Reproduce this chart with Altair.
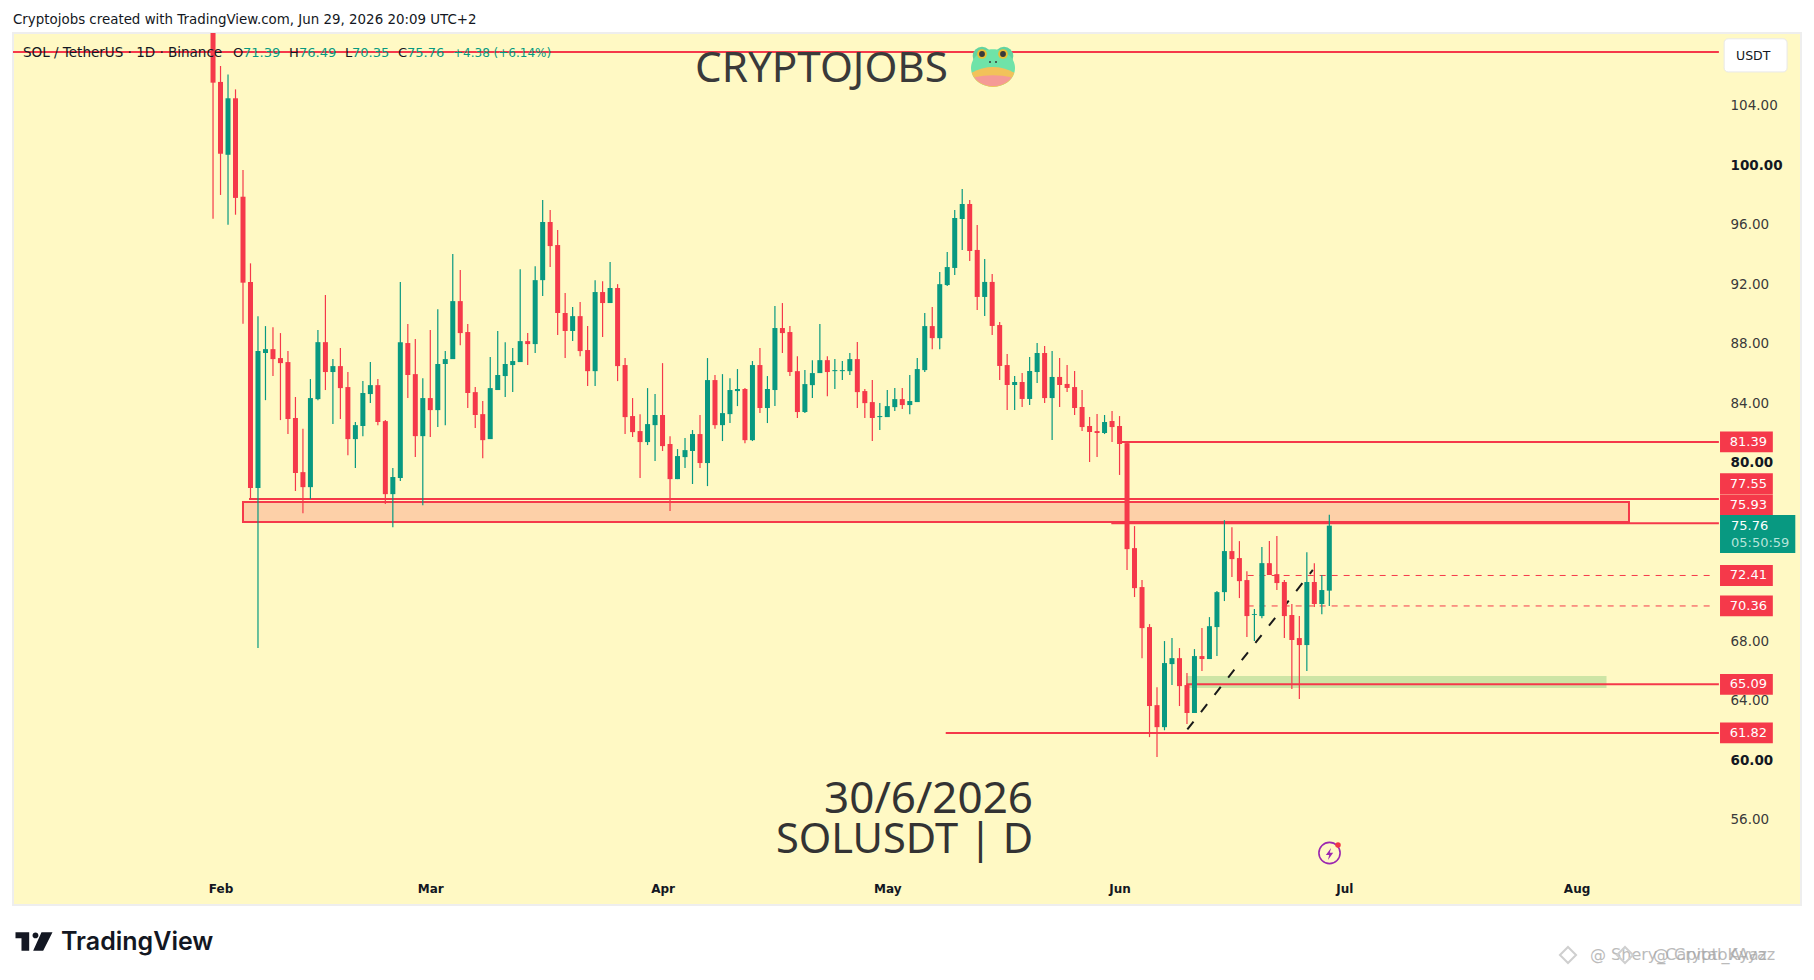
import altair as alt
import pandas as pd

FONT = "DejaVu Sans"
BIG = "Noto Sans"
RED = "#f5394a"
GREEN = "#089981"
BG = "#fff9c4"

# Daily candles from 2026-01-31
dirs = ("RRGRRRGGRR" "RRRGGRGRRG" "GGRRGGRRGR" "GGGRRRRGGG"
        "GGRGGRRRGR" "RGRGRRRRGG" "RRGGGRGRGG" "GRGRGGRRRG"
        "GGRGGGRRRG" "GGRGGGRGGG" "GRRGRRRGRG" "GRGRRRRRRG"
        "RRRRRRRGGR" "RGRGGGRRRG" "GRRRRRGRGG")
body_top = [110, 105.6, 104.5, 104.5, 97.88, 92.14, 87.5, 87.63, 87.63, 87.03,
            86.76, 83.0, 79.36, 84.34, 88.1, 88.1, 86.49, 86.49, 85.08, 82.52,
            84.68, 85.21, 85.21, 82.79, 79.03, 88.1, 88.04, 85.95, 84.34, 84.34,
            86.63, 86.96, 90.86, 90.86, 88.78, 84.74, 83.26, 85.01, 85.89, 86.63,
            86.83, 88.17, 88.17, 92.27, 96.18, 96.18, 94.63, 90.06, 89.85, 89.85,
            87.57, 91.47, 91.47, 91.74, 91.74, 86.56, 83.13, 82.12, 82.59, 83.2,
            83.2, 81.25, 80.44, 80.84, 81.92, 81.92, 85.55, 85.55, 83.33, 84.88,
            84.95, 84.95, 86.56, 86.56, 84.95, 89.05, 89.05, 88.78, 86.15, 85.28,
            86.02, 86.89, 86.89, 86.22, 86.22, 86.96, 86.96, 84.81, 84.07, 83.13,
            83.8, 84.27, 84.27, 84.14, 86.29, 89.18, 89.18, 92.0, 93.15, 96.45,
            97.39, 97.39, 94.3, 92.15, 92.15, 89.25, 86.56, 85.42, 85.42, 86.16,
            87.37, 87.37, 85.76, 85.76, 85.29, 85.08, 83.74, 82.46, 82.12, 82.73,
            82.8, 82.46, 81.31, 74.25, 71.63, 68.94, 63.69, 66.52, 66.85, 66.85,
            65.04, 66.99, 66.99, 69.0, 71.29, 74.05, 74.05, 73.58, 72.1, 69.81,
            73.24, 73.24, 72.5, 71.97, 69.75, 68.2, 71.97, 71.97, 71.43, 75.76]
body_bot = [105.55, 100.77, 100.7, 97.8, 92.1, 78.3, 78.29, 87.37, 86.96, 86.69,
            82.93, 79.3, 78.35, 78.35, 84.27, 86.09, 86.09, 85.01, 81.58, 81.58,
            82.46, 84.61, 82.73, 77.88, 77.88, 78.96, 85.89, 81.78, 81.78, 83.53,
            83.53, 86.63, 86.96, 88.71, 84.68, 83.2, 81.51, 81.58, 84.88, 85.82,
            86.56, 86.76, 87.97, 87.97, 92.27, 94.56, 90.06, 88.85, 88.85, 87.5,
            86.15, 86.15, 90.73, 90.73, 86.49, 83.06, 82.05, 81.38, 81.38, 82.52,
            81.11, 78.89, 78.89, 80.37, 80.78, 79.97, 79.97, 82.52, 82.52, 83.26,
            84.81, 81.51, 81.51, 83.67, 83.67, 84.88, 88.71, 86.09, 83.4, 83.4,
            85.21, 86.02, 86.09, 86.15, 86.15, 86.15, 84.74, 84.0, 83.0, 83.06,
            83.06, 83.73, 83.87, 83.87, 84.07, 86.22, 88.37, 88.37, 91.94, 93.09,
            96.38, 94.23, 91.14, 91.14, 89.19, 86.5, 85.22, 85.22, 84.28, 84.28,
            86.09, 84.34, 84.34, 85.22, 85.02, 83.67, 82.39, 82.06, 81.99, 81.99,
            82.39, 81.25, 74.18, 71.56, 68.87, 63.63, 62.21, 62.21, 66.45, 64.97,
            63.16, 63.16, 66.79, 66.79, 68.94, 71.29, 73.51, 72.03, 69.68, 69.75,
            69.68, 72.44, 71.9, 69.68, 68.07, 67.73, 67.73, 70.49, 70.49, 71.39]
wick_high = [110, 106.67, 106.1, 105.1, 99.67, 93.4, 89.85, 89.18, 89.1, 88.71,
             87.5, 84.41, 82.27, 85.62, 88.91, 91.27, 86.96, 87.7, 86.09, 82.73,
             85.48, 86.76, 85.62, 82.86, 79.63, 92.14, 89.32, 88.31, 85.68, 88.91,
             90.32, 87.5, 94.03, 92.95, 89.32, 85.08, 84.14, 87.1, 88.85, 88.1,
             87.7, 93.0, 88.71, 93.2, 97.66, 96.99, 95.64, 91.4, 90.46, 90.8,
             89.18, 92.27, 92.2, 93.49, 92.0, 87.03, 84.34, 83.26, 85.01, 84.61,
             86.69, 81.78, 80.91, 81.65, 82.19, 83.2, 87.03, 85.89, 85.95, 85.68,
             86.29, 85.01, 86.83, 87.7, 85.82, 90.53, 90.73, 89.18, 87.16, 86.22,
             86.89, 89.32, 87.16, 86.96, 86.83, 87.37, 88.11, 84.95, 85.55, 84.0,
             84.88, 85.01, 85.01, 85.89, 87.03, 90.06, 90.46, 92.81, 94.16, 96.99,
             98.4, 97.66, 95.98, 93.69, 92.68, 89.46, 87.3, 85.82, 86.03, 87.1,
             88.04, 87.84, 87.5, 87.03, 86.56, 86.16, 84.88, 83.07, 83.27, 83.2,
             83.47, 83.13, 81.32, 75.73, 72.1, 69.14, 64.9, 68.0, 68.2, 67.53,
             65.85, 67.46, 68.87, 69.61, 71.36, 76.13, 75.66, 74.72, 72.7, 70.15,
             74.32, 74.72, 75.06, 72.1, 70.49, 69.68, 73.98, 73.24, 72.44, 76.49]
wick_low = [96.4, 98.0, 96.0, 96.67, 89.34, 77.55, 67.53, 84.2, 85.82, 82.86,
            81.92, 78.09, 76.6, 77.55, 84.2, 84.88, 82.59, 82.93, 80.5, 79.63,
            81.78, 84.0, 82.52, 77.21, 75.66, 78.76, 84.34, 80.37, 77.14, 81.72,
            82.39, 82.52, 87.0, 87.9, 83.67, 82.32, 80.3, 81.58, 84.88, 84.41,
            84.74, 86.76, 86.56, 87.37, 91.2, 93.15, 88.58, 87.03, 88.17, 87.16,
            85.15, 85.15, 88.44, 90.73, 85.48, 81.92, 81.72, 78.96, 81.18, 80.1,
            80.78, 76.74, 78.89, 79.63, 78.56, 79.63, 78.42, 82.27, 81.45, 82.66,
            83.8, 81.31, 81.45, 83.33, 82.66, 83.8, 87.37, 85.82, 83.0, 83.33,
            84.34, 86.02, 84.47, 84.95, 85.55, 85.89, 83.67, 83.0, 81.45, 82.19,
            83.06, 83.47, 83.6, 83.26, 84.07, 86.09, 87.63, 87.63, 91.87, 92.62,
            94.3, 93.56, 90.26, 89.86, 88.58, 85.56, 83.54, 83.54, 83.74, 83.87,
            85.35, 84.01, 81.52, 83.74, 84.75, 83.2, 82.12, 80.04, 80.38, 81.92,
            81.39, 79.17, 72.77, 70.96, 66.85, 61.54, 60.2, 62.0, 65.04, 63.63,
            62.42, 63.16, 65.98, 66.79, 67.0, 70.69, 72.3, 70.89, 68.27, 68.0,
            69.54, 72.44, 71.43, 68.2, 64.77, 64.1, 65.98, 70.29, 69.81, 70.35]

# Horizontal levels: price, first day (days after Jan 31), last day
level_price = [107.61, 81.39, 77.55, 75.93, 65.09, 61.82]
level_start = [-26.7, 121.3, 4.8, 119.9, 129.9, 97.8]
level_end = [201, 201, 201, 201, 201, 201]
dashed_price = [72.41, 70.36]
dashed_start = [138.1, 138.1]
dashed_end = [200.3, 200.3]
zone_orange = (4, 189, 76.0, 77.35)
zone_green = (129.9, 186, 64.84, 65.65)
trend_days = [130.05, 146.8]
trend_price = [62.06, 72.78]

# Price tags on the right edge: text, centre of tag
tag_text = ["81.39", "77.55", "75.93", "72.41", "70.36", "65.09", "61.82"]
tag_center = [81.39, 78.58, 77.15, 72.41, 70.36, 65.09, 61.82]

y_ticks = [104, 100, 96, 92, 88, 84, 80, 68, 64, 60, 56]
month_ticks = ["2026-02-01", "2026-03-01", "2026-04-01", "2026-05-01",
               "2026-06-01", "2026-07-01", "2026-08-01"]

T0 = pd.Timestamp("2026-01-31", tz="UTC")


def day(d):
    return (T0 + pd.Timedelta(days=d)).strftime("%Y-%m-%dT%H:%M:%SZ")


def ms(ts):
    return int(pd.Timestamp(ts, tz="UTC").timestamp() * 1000)


x_dom = [ms(T0.tz_localize(None) + pd.Timedelta(days=-26.7)),
         ms(T0.tz_localize(None) + pd.Timedelta(days=211.96))]
x_scale = alt.Scale(type="utc", domain=x_dom, padding=0)
y_scale = alt.Scale(domain=[50.25, 108.89], nice=False, zero=False)

axis_x = alt.Axis(values=[ms(m) for m in month_ticks], labelExpr="utcFormat(datum.value,'%b')",
                  domain=False, ticks=False, grid=False, offset=-22, labelPadding=0,
                  labelFont=FONT, labelFontSize=12, labelFontWeight="bold", labelColor="#131722",
                  title=None)
axis_y = alt.Axis(values=y_ticks, format=".2f", orient="right", domain=False, ticks=False, grid=False,
                  offset=-71, labelPadding=0, labelFont=FONT, labelFontSize=13.5,
                  labelFontWeight={"expr": "datum.value % 20 == 0 ? 'bold' : 'normal'"},
                  labelColor={"expr": "datum.value % 20 == 0 ? '#131722' : '#3a3a3a'"},
                  title=None)

X = alt.X("date:T", scale=x_scale, axis=axis_x, title=None)
X2 = alt.X2("date2:T")
Y = alt.Y("price:Q", scale=y_scale, axis=axis_y, title=None)
Y2 = alt.Y2("price2:Q")

candles = pd.DataFrame({
    "date": [day(i) for i in range(len(dirs))],
    "dir": list(dirs),
    "top": body_top, "bot": body_bot, "hi": wick_high, "lo": wick_low,
})
color_enc = alt.Color("dir:N", scale=alt.Scale(domain=["G", "R"], range=[GREEN, RED]), legend=None)


def zone(z, fill, **kw):
    df = pd.DataFrame({"date": [day(z[0])], "date2": [day(z[1])], "price": [z[2]], "price2": [z[3]]})
    return alt.Chart(df).mark_rect(fill=fill, **kw).encode(x=X, x2=X2, y=Y, y2=Y2)


z_orange = zone(zone_orange, "#fdd0a8", stroke=RED, strokeWidth=2)
z_green = zone(zone_green, "#cde5a5")

levels = alt.Chart(pd.DataFrame({
    "date": [day(d) for d in level_start], "date2": [day(d) for d in level_end], "price": level_price,
})).mark_rule(color=RED, strokeWidth=2).encode(x=X, x2=X2, y=Y)

dashed = alt.Chart(pd.DataFrame({
    "date": [day(d) for d in dashed_start], "date2": [day(d) for d in dashed_end], "price": dashed_price,
})).mark_rule(color=RED, strokeWidth=1, strokeDash=[6, 6]).encode(x=X, x2=X2, y=Y)

trend = alt.Chart(pd.DataFrame({"date": [day(d) for d in trend_days], "price": trend_price})).mark_line(
    color="#1a1a1a", strokeWidth=2, strokeDash=[10, 12]).encode(x=X, y=Y)

wicks = alt.Chart(candles).mark_rule(strokeWidth=1.2, clip=True).encode(
    x=X, y=alt.Y("lo:Q", scale=y_scale, axis=axis_y, title=None), y2="hi:Q", color=color_enc)
bodies = alt.Chart(candles).mark_bar(size=5, clip=True).encode(
    x=X, y=alt.Y("bot:Q", scale=y_scale, axis=axis_y, title=None), y2="top:Q", color=color_enc)

# price tags
H = 0.70
tags = alt.Chart(pd.DataFrame({
    "date": [day(201.15)] * len(tag_text), "date2": [day(208.2)] * len(tag_text),
    "price": [c - H for c in tag_center], "price2": [c + H for c in tag_center],
})).mark_rect(fill=RED).encode(x=X, x2=X2, y=Y, y2=Y2)
tag_labels = alt.Chart(pd.DataFrame({
    "date": [day(202.45)] * len(tag_text), "price": tag_center, "t": tag_text,
})).mark_text(font=FONT, fontSize=13, color="white", align="left", baseline="middle").encode(x=X, y=Y, text="t")
last_tag = alt.Chart(pd.DataFrame({
    "date": [day(201.15)], "date2": [day(211.2)], "price": [73.92], "price2": [76.48],
})).mark_rect(fill=GREEN).encode(x=X, x2=X2, y=Y, y2=Y2)


def txt(label, px, py, size=13, color="#131722", weight="normal", align="left", font=FONT, opacity=1):
    # px, py are page coordinates of the reference screenshot
    return alt.Chart(pd.DataFrame({"t": [label]})).mark_text(
        font=font, fontSize=size, color=color, fontWeight=weight, align=align, baseline="middle",
        opacity=opacity,
    ).encode(x=alt.value(px - 13), y=alt.value(py - 33), text="t")


def sym(shape, px, py, size, fill=None, stroke=None, sw=1, opacity=1):
    kw = {}
    if fill:
        kw["fill"] = fill
        kw["filled"] = True
    if stroke:
        kw["stroke"] = stroke
        kw["strokeWidth"] = sw
    return alt.Chart(pd.DataFrame({"a": [1]})).mark_point(shape=shape, size=size, opacity=opacity, **kw).encode(
        x=alt.value(px - 13), y=alt.value(py - 33))


texts = [
    txt("Cryptojobs created with TradingView.com, Jun 29, 2026 20:09 UTC+2", 13, 20, 13.4),
    txt("SOL / TetherUS · 1D · Binance", 23, 53, 13.5),
    txt("O", 233, 53, 13), txt("71.39", 243, 53, 13, GREEN),
    txt("H", 289, 53, 13), txt("76.49", 299, 53, 13, GREEN),
    txt("L", 345, 53, 13), txt("70.35", 352, 53, 13, GREEN),
    txt("C", 398, 53, 13), txt("75.76", 407, 53, 13, GREEN),
    txt("+4.38 (+6.14%)", 453, 53, 12, GREEN),
    txt("CRYPTOJOBS", 695, 68.5, 42.2, "#3a3a3a", font=BIG),
    txt("30/6/2026", 1033, 799.5, 44, "#333333", align="right", font=BIG),
    txt("SOLUSDT | D", 1033, 840.5, 41.6, "#333333", align="right", font=BIG),
    txt("75.76", 1731, 526, 13, "white"),
    txt("05:50:59", 1731, 543, 13, "#b6e4da"),
    txt("USDT", 1736, 55.5, 12.5, "#131722"),
    txt("TradingView", 61, 942, 25, "#131722", weight=600, font="Inter"),
    txt("@ Shery_Capital_Ayaz", 1590, 955, 16, "#a5a5a5", opacity=0.75),
    txt("@ CryptoKAyaz", 1653, 955, 16, "#a5a5a5", opacity=0.75),
]

usdt_box = alt.Chart(pd.DataFrame({
    "date": [day(201.7)], "date2": [day(210.1)], "price": [106.27], "price2": [108.5],
})).mark_rect(fill="white", stroke="#e8e8e8", cornerRadius=4).encode(x=X, x2=X2, y=Y, y2=Y2)

# TradingView logo, frog and lightning badge as small vector symbols
tv_logo = ("M-1,-.495 L-.26,-.495 L-.26,.495 L-.676,.495 L-.676,-.171 L-1,-.171 Z "
           "M-.08,-.33 A.16,.16 0 1 0 .24,-.33 A.16,.16 0 1 0 -.08,-.33 Z "
           "M.405,-.495 L1,-.495 L.495,.495 L-.045,.495 Z")
head = "M-1,0 A1,.85 0 1 1 1,0 A1,.85 0 1 1 -1,0 Z"
belly = "M-.97,.22 Q-.5,-.05 0,-.05 Q.5,-.05 .97,.22 A1,.85 0 0 1 -.97,.22 Z"
blush = "M-.85,.42 Q0,.25 .85,.42 A1,.85 0 0 1 -.85,.42 Z"
bolt = "M.25,-1 L-.6,.15 L-.05,.15 L-.25,1 L.6,-.2 L.05,-.2 Z"

frog = [
    sym("circle", 982, 56, 346, fill="#62d3a0"),
    sym("circle", 1004, 56, 346, fill="#62d3a0"),
    sym(head, 993, 68, 1936, fill="#6fe3a8"),
    sym(belly, 993, 68, 1936, fill="#f2c25a"),
    sym(blush, 993, 68, 1936, fill="#f59a96"),
    sym("circle", 982, 54, 95, fill="#e9bf35"),
    sym("circle", 1003, 54, 95, fill="#e9bf35"),
    sym("circle", 982, 54, 34, fill="#3a3a3a"),
    sym("circle", 1003, 54, 34, fill="#3a3a3a"),
    sym("circle", 990, 62, 4, fill="#3a3a3a"),
    sym("circle", 996, 62, 4, fill="#3a3a3a"),
]
badge = [
    sym("circle", 1329.5, 853, 450, stroke="#9c27b0", sw=1.6),
    sym(bolt, 1329.5, 854, 150, fill="#9c27b0"),
    sym("circle", 1338, 845, 30, fill="#f23645"),
]
logo = [sym(tv_logo, 34, 941.5, 1369, fill="#131722")]
marks = [
    sym("diamond", 1568, 955, 260, stroke="#cfcfcf", sw=2),
    sym("diamond", 1625, 955, 260, stroke="#cfcfcf", sw=2),
]

chart = alt.layer(
    z_orange, z_green, levels, dashed, trend, wicks, bodies,
    tags, tag_labels, last_tag, usdt_box, *texts, *frog, *badge, *logo, *marks,
).properties(
    width=1788, height=872,
    padding={"left": 5, "top": 25, "right": 5, "bottom": 62},
    autosize=alt.AutoSizeParams(type="none"),
    background="white",
).configure_view(fill=BG, stroke="#eeeeee", strokeWidth=2)

chart.save("out.html", embed_options={"renderer": "svg", "actions": False})
